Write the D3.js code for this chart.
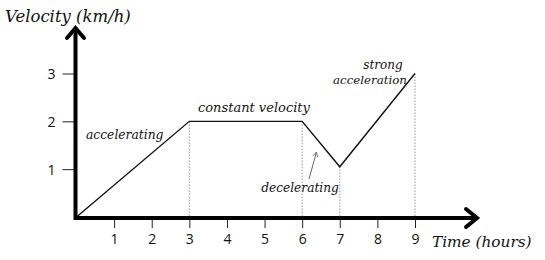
<!DOCTYPE html>
<html>
<head>
<meta charset="utf-8">
<script src="https://cdn.jsdelivr.net/npm/d3@7"></script>
<style>
  body { margin: 0; background: #fff; }
  svg { display: block; }
</style>
</head>
<body>
<div id="chart"></div>
<script>
const width = 545;
const height = 260;

// time (hours) vs velocity (km/h)
const hours = [0, 3, 6, 7, 9];
const velocity = [0, 2, 2, 1.05, 3];
const xTicks = [1, 2, 3, 4, 5, 6, 7, 8, 9];
const yTicks = [1, 2, 3];
const dropLines = [3, 6, 7, 9];

const serif = "'DejaVu Serif', serif";
const sans = "'Open Sans', 'Liberation Sans', sans-serif";

const x = d3.scaleLinear().domain([0, 9]).range([76.5, 415]);
const y = d3.scaleLinear().domain([0, 3]).range([217, 73.5]);

const svg = d3.select('#chart').append('svg')
  .attr('width', width)
  .attr('height', height);

const pts = hours.map((h, i) => ({ h, v: velocity[i] }));

// dotted drop lines
svg.append('g').selectAll('line').data(dropLines).enter().append('line')
  .attr('x1', d => x(d)).attr('x2', d => x(d))
  .attr('y1', 216)
  .attr('y2', d => y(velocity[hours.indexOf(d)]))
  .attr('stroke', '#999')
  .attr('stroke-width', 1)
  .attr('stroke-dasharray', '1.5,1.5');

// velocity line
svg.append('path')
  .datum(pts)
  .attr('fill', 'none')
  .attr('stroke', '#111')
  .attr('stroke-width', 1.4)
  .attr('d', d3.line().x(d => x(d.h)).y(d => y(d.v)));

// axes via d3 axis generators
const xAxis = svg.append('g')
  .attr('transform', 'translate(0,218)')
  .call(d3.axisBottom(x).tickValues(xTicks).tickFormat(d3.format('d')).tickSize(10).tickPadding(6));
const yAxis = svg.append('g')
  .attr('transform', 'translate(75.5,0)')
  .call(d3.axisLeft(y).tickValues(yTicks).tickFormat(d3.format('d')).tickSize(12).tickPadding(8));

[xAxis, yAxis].forEach(g => {
  g.select('.domain').remove();
  g.selectAll('.tick line').attr('stroke', '#222').attr('stroke-width', 1);
  g.selectAll('.tick text')
    .attr('fill', '#111')
    .attr('font-family', sans)
    .attr('font-size', '14px');
});
yAxis.selectAll('.tick line').attr('transform', 'translate(-1,0)');
yAxis.selectAll('.tick text').attr('dy', '0.35em');

// thick axis lines with open arrow heads
svg.append('line')
  .attr('x1', 75.5).attr('y1', 218).attr('x2', 475).attr('y2', 218)
  .attr('stroke', '#000').attr('stroke-width', 4);
svg.append('path')
  .attr('d', 'M466,209 L477,218 L466,227')
  .attr('fill', 'none').attr('stroke', '#000').attr('stroke-width', 4)
  .attr('stroke-linecap', 'round').attr('stroke-linejoin', 'miter');
svg.append('line')
  .attr('x1', 75.5).attr('y1', 220).attr('x2', 75.5).attr('y2', 30)
  .attr('stroke', '#000').attr('stroke-width', 4);
svg.append('path')
  .attr('d', 'M67,38 L75.5,28 L84,38')
  .attr('fill', 'none').attr('stroke', '#000').attr('stroke-width', 4)
  .attr('stroke-linecap', 'round').attr('stroke-linejoin', 'miter');

// annotations
const notes = [
  { t: 'Velocity (km/h)', x: 5, y: 22, a: 'start', s: 16.5 },
  { t: 'Time (hours)', x: 432, y: 247, a: 'start', s: 15.3 },
  { t: 'accelerating', x: 86, y: 139, a: 'start', s: 12.3 },
  { t: 'constant velocity', x: 198, y: 112, a: 'start', s: 13 },
  { t: 'strong', x: 383, y: 69, a: 'middle', s: 12 },
  { t: 'acceleration', x: 370, y: 84, a: 'middle', s: 11.8 },
  { t: 'decelerating', x: 300, y: 192, a: 'middle', s: 12.2 }
];
svg.append('g').selectAll('text').data(notes).enter().append('text')
  .attr('x', d => d.x).attr('y', d => d.y)
  .attr('text-anchor', d => d.a)
  .attr('font-family', serif)
  .attr('font-style', 'italic')
  .attr('font-size', d => d.s + 'px')
  .attr('fill', '#111')
  .text(d => d.t);

// small pointer arrow
svg.append('defs').append('marker')
  .attr('id', 'tip')
  .attr('viewBox', '0 0 10 10')
  .attr('refX', 9).attr('refY', 5)
  .attr('markerWidth', 6).attr('markerHeight', 6)
  .attr('orient', 'auto')
  .append('path')
  .attr('d', 'M1,1 L9,5 L1,9')
  .attr('fill', 'none').attr('stroke', '#666').attr('stroke-width', 1.3);
svg.append('line')
  .attr('x1', 309).attr('y1', 179).attr('x2', 316.5).attr('y2', 152)
  .attr('stroke', '#666').attr('stroke-width', 1)
  .attr('marker-end', 'url(#tip)');
</script>
</body>
</html>
